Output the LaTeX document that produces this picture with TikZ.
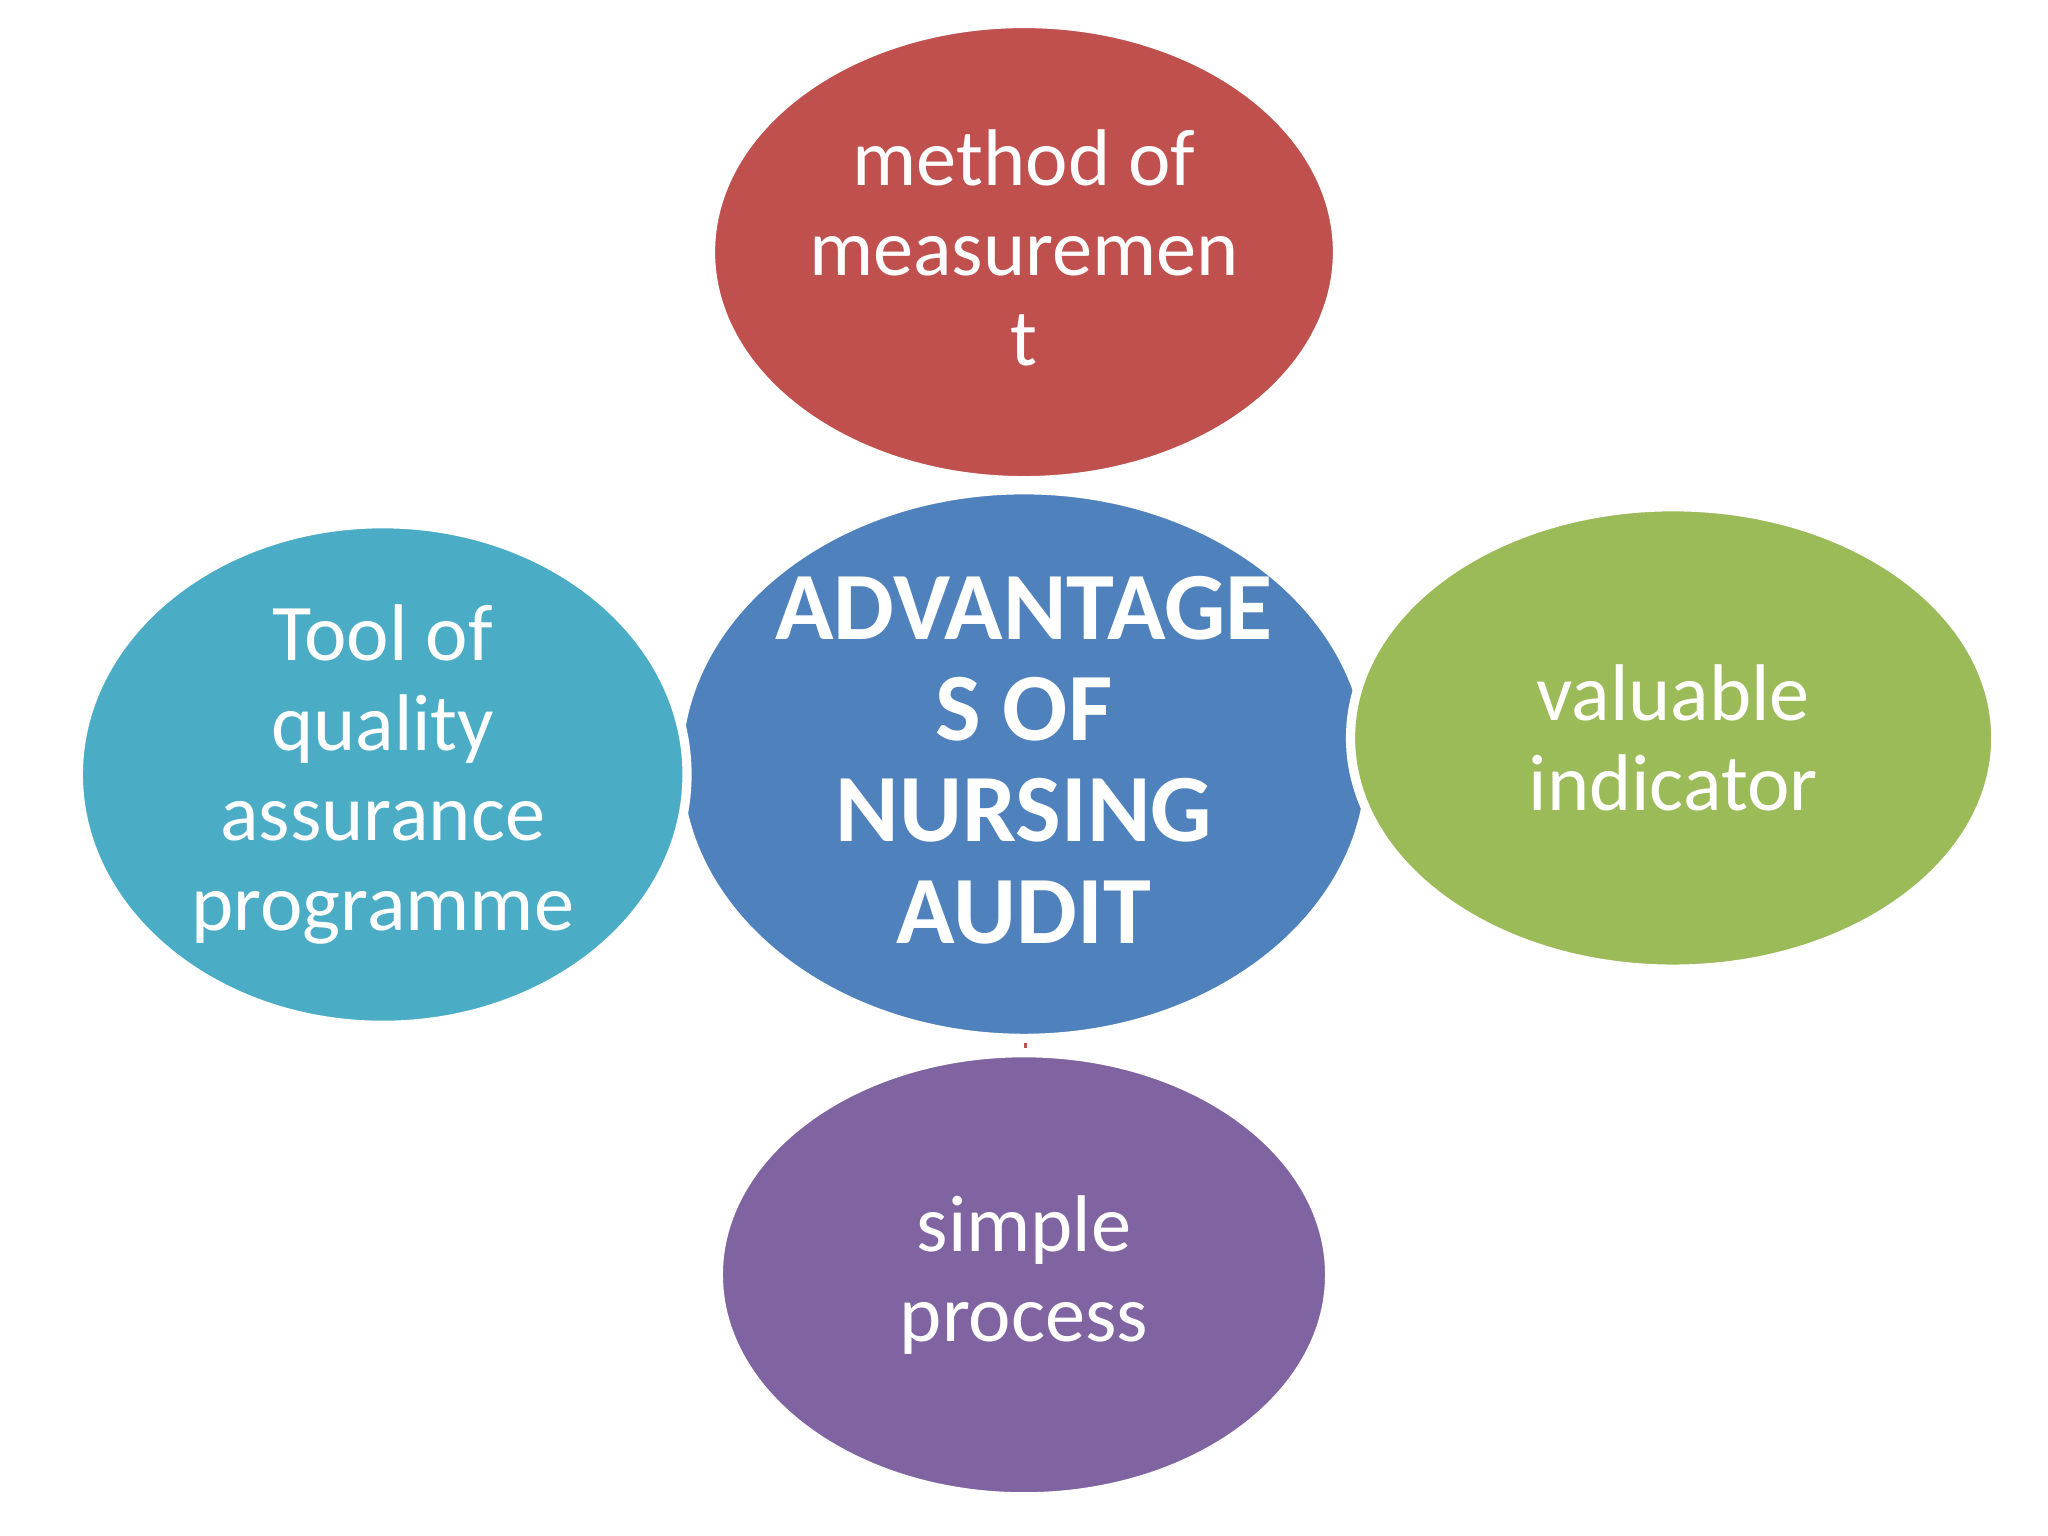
\documentclass[tikz,border=0pt]{standalone}
\usepackage{fontspec}
\setmainfont{Carlito}
\definecolor{cred}{HTML}{C0504D}
\definecolor{cblue}{HTML}{4F81BD}
\definecolor{caqua}{HTML}{4BACC6}
\definecolor{cgreen}{HTML}{9BBB59}
\definecolor{cpurple}{HTML}{8064A2}
\begin{document}
\begin{tikzpicture}[x=0.01cm,y=-0.01cm,
  blob/.style={draw=white,line width=2pt,text=white,align=center,
    font=\fontsize{17.5pt}{19.6pt}\selectfont}]
\useasboundingbox (0,0) rectangle (1568,1176);
\fill[white] (0,0) rectangle (1568,1176);
\fill[cred] (784,798) rectangle (786,803);
\draw[blob,fill=cblue] (784,585) ellipse (265 and 210);
\node[text=white,align=center,font=\bfseries\fontsize{21pt}{22pt}\selectfont] (c) at (784,582) {ADVANTAGE\\S OF\\NURSING\\AUDIT};
\draw[blob,fill=cred] (784,193) ellipse (240 and 175);
\node[blob,draw=none] (t) at (784,190) {method of\\measuremen\\t};
\draw[blob,fill=caqua] (293,593) ellipse (233 and 192);
\node[blob,draw=none] (l) at (293,593) {Tool of\\quality\\assurance\\programme};
\draw[blob,fill=cgreen] (1281,565) ellipse (247 and 177);
\node[blob,draw=none] (r) at (1281,565) {valuable\\indicator};
\draw[blob,fill=cpurple] (784,976) ellipse (234 and 170);
\node[blob,draw=none] (b) at (784,976) {simple\\process};
\end{tikzpicture}
\end{document}
